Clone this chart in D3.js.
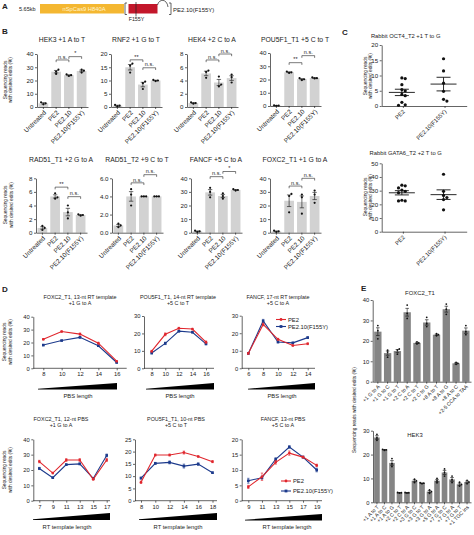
<!DOCTYPE html>
<html>
<head>
<meta charset="utf-8">
<script src="https://cdn.jsdelivr.net/npm/d3@7"></script>
<style>
  body { margin: 0; background: #fff; }
</style>
</head>
<body>
<script>
// ---------------- data ----------------

// panel B
var bGroups = ["Untreated", "PE2", "PE2.10", "PE2.10(F155Y)"];
var bTitles = ["HEK3 +1 A to T", "RNF2 +1 G to T", "HEK4 +2 C to A", "POU5F1_T1 +5 C to T",
               "RAD51_T1 +2 G to A", "RAD51_T2 +9 C to T", "FANCF +5 C to A", "FOXC2_T1 +1 G to A"];
var bMax  = [40, 20, 8, 40, 8, 6, 40, 40];
var bStep = [10, 5, 2, 10, 2, 2, 10, 10];
var bReps = [
  [[2.0, 2.8, 3.6], [25.0, 26.8, 28.2], [23.4, 24.0, 24.6], [26.0, 27.4, 28.2]],
  [[0.2, 0.5, 0.8], [13.0, 15.6, 16.4], [6.8, 9.0, 9.6], [9.8, 10.0, 10.2]],
  [[0.5, 0.6, 0.7], [4.4, 5.3, 5.5], [3.1, 3.4, 4.6], [3.7, 4.5, 4.9]],
  [[0.1, 0.3, 0.5], [25.0, 25.4, 26.0], [19.6, 20.2, 21.0], [20.8, 21.0, 21.6]],
  [[0.4, 0.7, 1.0], [5.0, 5.2, 5.8], [2.1, 3.0, 4.0], [2.5, 2.6, 2.7]],
  [[0.6, 0.8, 1.0], [3.0, 4.2, 4.8], [4.0, 4.0, 4.0], [4.0, 4.0, 4.0]],
  [[0.5, 1.0, 1.5], [26.0, 30.0, 33.0], [25.0, 27.0, 29.0], [31.0, 31.4, 32.0]],
  [[0.5, 1.0, 1.5], [15.0, 27.0, 28.5], [14.0, 26.0, 28.0], [22.0, 28.0, 31.0]]
];
// brackets: [from, to, label, level in data units]
var bSig = [
  [[1, 2, "n.s.", 35.5], [2, 3, "*", 38]],
  [[1, 2, "**", 17.8], [2, 3, "n.s.", 14.8]],
  [[1, 2, "n.s.", 7.1], [2, 3, "n.s.", 8.0]],
  [[1, 2, "**", 32.7], [2, 3, "n.s.", 38]],
  [[1, 2, "**", 6.7], [2, 3, "n.s.", 5.3]],
  [[1, 2, "n.s.", 5.5], [2, 3, "n.s.", 6.4]],
  [[1, 2, "n.s.", 41.2], [2, 3, "*", 45]],
  [[1, 2, "n.s.", 34.3], [2, 3, "n.s.", 40]]
];

// panel C
var cGroups = ["PE2", "PE2.10(F155Y)"];
var oct4PE2   = [9.2, 9.0, 7.0, 5.4, 5.0, 3.8, 3.4, 1.2, 0.4, 0.2];
var oct4F155Y = [15.5, 11.5, 7.5, 4.8, 2.2, 1.6];
var gata6PE2   = [34, 33.5, 32, 30.5, 29.5, 28.5, 23, 22.5, 22.5];
var gata6F155Y = [42, 29.5, 26.5, 25, 23.5, 16];

// panel D
var dTitles = [
  ["FOXC2_T1, 13-nt RT template", "+1 G to A"], ["POU5F1_T1, 14-nt RT template", "+5 C to T"], ["FANCF, 17-nt RT template", "+5 C to A"],
  ["FOXC2_T1, 12-nt PBS", "+1 G to A"], ["POU5F1_T1, 10-nt PBS", "+5 C to T"], ["FANCF, 13-nt PBS", "+5 C to A"]
];
var dX = [[8, 10, 12, 14, 16], [8, 10, 12, 14, 16], [6, 8, 10, 12, 14],
          [7, 9, 11, 13, 15, 17], [8, 10, 12, 14, 16, 18], [9, 11, 13, 15, 17, 19]];
var dPE2 = [[22.5, 28.5, 26.5, 19.5, 5.5], [9.8, 19.5, 23, 22.5, 15], [8.5, 25, 16.5, 13, 14],
            [25.5, 18, 26.5, 26.5, 14, 26.5], [7.5, 18.6, 18.6, 19.6, 18, 15.9], [4.5, 7.8, 12.5, 15.5, 14.2, 11.5]];
var dPE2err = [[0.6, 0.5, 0.8, 0.6, 0.4], [0.5, 0.8, 0.5, 0.4, 0.6], [0.4, 0.8, 0.6, 0.4, 0.5],
               [0.8, 0.5, 0.9, 0.9, 0.6, 1.0], [0.5, 0.4, 0.4, 0.6, 0.3, 0.4], [0.5, 1.2, 0.6, 0.7, 0.3, 0.4]];
var dF155Y = [[18, 21.5, 24, 17.5, 4.5], [8.8, 14.3, 21.3, 20.7, 14], [8.5, 27, 15, 14.5, 17.5],
              [21, 15, 23.5, 24, 14.5, 29.5], [9.2, 15.2, 15.6, 14.1, 14.9, 11.4], [6.5, 7.5, 13.5, 17.5, 14.2, 10]];
var dF155Yerr = [[0.5, 0.4, 0.6, 0.5, 0.4], [0.6, 0.7, 0.5, 0.4, 0.5], [0.4, 0.9, 0.5, 0.4, 0.5],
                 [0.7, 0.4, 0.5, 0.6, 0.5, 0.9], [0.4, 0.4, 0.6, 0.8, 0.5, 0.3], [0.8, 0.5, 0.5, 0.4, 0.3, 0.6]];
var dMax  = [40, 30, 30, 40, 25, 20];
var dStep = [10, 10, 10, 10, 5, 5];
var dXlabels = ["PBS length", "RT template length"];
var seriesNames = ["PE2", "PE2.10(F155Y)"];

// panel E
var eFoxLabels = ["+1 G to A", "+1 G to C", "+1 G to T", "+2 C to A", "+2 C to T", "+2 C to G",
                  "+8 A to T", "+8 A to G", "+8 A to C", "+2-5 CCA to TAA"];
var eFoxReps = [[21, 25, 27.5], [12, 14.5, 15.5], [13.5, 15.5, 16], [31, 33.5, 37.5], [18.5, 19, 19.5],
                [27, 28.5, 31.5], [22.5, 23, 23.5], [33, 35.5, 38], [8.5, 9, 9.5], [23, 24.5, 27.5]];
var eHekLabels = ["+1 A to T", "+1 A to C", "+1 A to G", "+2 C to T", "+2 C to A", "+3 G to C", "+3 G to T",
                  "+3 G to A", "+5 G to A", "+7 G to C", "+7 G to A", "+7 G to T", "+1 TGC ins"];
var eHekReps = [[26, 27, 28.5], [21.8, 22, 22.2], [15, 16.2, 18.3], [3.9, 4, 4.1], [3.9, 4, 4.1],
                [8.3, 9, 9.7], [7.8, 8, 8.2], [3.8, 4.5, 5.2], [8.2, 9, 10], [11, 12.5, 14],
                [8.3, 9.5, 11], [6.8, 7.5, 8.4], [7.8, 8.5, 9.2]];

// ---------------- drawing ----------------
var FONT = "'Liberation Sans', Arial, Helvetica, sans-serif";
var INK = "#222";
var RED = "#e0262d", BLUE = "#1c3a8c";

var svg = d3.select("body").append("svg")
  .attr("width", 474).attr("height", 535)
  .style("font-family", FONT);

function label(x, y, s, size, anchor, bold, fill) {
  return svg.append("text").attr("x", x).attr("y", y).text(s)
    .attr("font-size", size).attr("text-anchor", anchor || "start")
    .attr("font-weight", bold ? "bold" : null)
    .attr("fill", fill || INK);
}

function yTitle(x, yc, lines, size) {
  lines.forEach(function(s, k) {
    svg.append("text")
      .attr("transform", "translate(" + (x + k * (size + 0.9)) + "," + yc + ") rotate(-90)")
      .attr("text-anchor", "middle").attr("font-size", size).attr("fill", INK).text(s);
  });
}

function styleAxis(g, size) {
  g.attr("font-family", FONT).attr("font-size", size);
  g.select(".domain").attr("stroke", INK).attr("stroke-width", 0.7);
  g.selectAll(".tick line").attr("stroke", INK).attr("stroke-width", 0.7);
  g.selectAll(".tick text").attr("fill", INK);
}

// simple beeswarm: horizontal offsets so dots do not overlap
function swarm(vals, y, r) {
  var placed = [];
  return vals.map(function(v) {
    var py = y(v), off = 0;
    for (var k = 0; k < 40; k++) {
      off = (k % 2 ? 1 : -1) * Math.ceil(k / 2) * r * 2.1;
      var ok = placed.every(function(p) { return Math.hypot(p[0] - off, p[1] - py) >= r * 2.1; });
      if (ok) break;
    }
    placed.push([off, py]);
    return off;
  });
}

function stats(r) {
  return { m: d3.mean(r), se: d3.deviation(r) / Math.sqrt(r.length), r: r };
}

function errPath(X, a, b, cap) {
  return "M" + (X - cap) + "," + a + "H" + (X + cap) + "M" + X + "," + a + "V" + b + "M" + (X - cap) + "," + b + "H" + (X + cap);
}

// ---------- A: construct schematic ----------
label(2, 9, "A", 8, "start", true);
label(19, 11, "5.65kb", 5.5);
svg.append("rect").attr("x", 40).attr("y", 4).attr("width", 84).attr("height", 9.5).attr("fill", "#f4b731");
label(84, 10.7, "nSpCas9 H840A", 5.8, "middle", false, "#fff4cf");
svg.append("path").attr("d", "M127,3H125V14.5H127").attr("fill", "none").attr("stroke", INK).attr("stroke-width", 0.7);
svg.append("rect").attr("x", 128.5).attr("y", 4).attr("width", 29).attr("height", 9.5).attr("fill", "#c3172b");
svg.append("line").attr("x1", 136).attr("x2", 136).attr("y1", 2).attr("y2", 16.5).attr("stroke", INK).attr("stroke-width", 0.7);
label(136.5, 21, "F155Y", 5.3, "middle");
svg.append("path").attr("d", "M157.5,5C159,-1.5 167,-1.5 168,7").attr("fill", "none").attr("stroke", INK).attr("stroke-width", 0.7);
svg.append("path").attr("d", "M169,3H171V14.5H169").attr("fill", "none").attr("stroke", INK).attr("stroke-width", 0.7);
label(173, 11.5, "PE2.10(F155Y)", 6);

// ---------- B: bar charts ----------
label(2, 34, "B", 8, "start", true);
var bLayout = [
  { ax: 37, top: 54, bottom: 107, ty: 42.3 },
  { ax: 111, top: 54, bottom: 107, ty: 42.3 },
  { ax: 187, top: 54, bottom: 107, ty: 42.3 },
  { ax: 270, top: 53, bottom: 106, ty: 42.3 },
  { ax: 36, top: 178.3, bottom: 232.7, ty: 162.3 },
  { ax: 112, top: 178.3, bottom: 232.7, ty: 162.3 },
  { ax: 191, top: 178.3, bottom: 232.7, ty: 162.3 },
  { ax: 270, top: 178.3, bottom: 232.7, ty: 162.3 }
];

function barChart(i) {
  var L = bLayout[i];
  var y = d3.scaleLinear().domain([0, bMax[i]]).range([L.bottom, L.top]);
  var x = d3.scaleBand().domain(bGroups).range([L.ax, L.ax + 51]).paddingInner(0.24).paddingOuter(0.12);
  var cx = function(k) { return x(bGroups[k]) + x.bandwidth() / 2; };
  var st = bReps[i].map(stats);
  var g = svg.append("g");

  g.selectAll(".bar").data(st).join("rect")
    .attr("x", function(d, k) { return x(bGroups[k]); })
    .attr("width", x.bandwidth())
    .attr("y", function(d) { return y(d.m); })
    .attr("height", function(d) { return L.bottom - y(d.m); })
    .attr("fill", "#d2d2d2");

  g.selectAll(".err").data(st).join("path")
    .attr("d", function(d, k) { return errPath(cx(k), y(d.m + d.se), y(d.m - d.se), 2.2); })
    .attr("stroke", "#111").attr("stroke-width", 0.6).attr("fill", "none");

  st.forEach(function(d, k) {
    var off = swarm(d.r, y, 1.1);
    g.selectAll(null).data(d.r).join("circle")
      .attr("cx", function(v, j) { return cx(k) + off[j]; })
      .attr("cy", function(v) { return y(v); })
      .attr("r", 1.1).attr("fill", "#111");
  });

  var ya = g.append("g").attr("transform", "translate(" + L.ax + ",0)")
    .call(d3.axisLeft(y).tickValues(d3.range(0, bMax[i] + 1e-9, bStep[i])).tickSize(2).tickSizeOuter(0).tickPadding(1.5));
  styleAxis(ya, 6.2);

  var xa = g.append("g").attr("transform", "translate(0," + L.bottom + ")")
    .call(d3.axisBottom(x).tickSize(2).tickSizeOuter(0).tickPadding(1));
  styleAxis(xa, 6.4);
  xa.selectAll(".tick text").attr("y", 0).attr("dy", "0.35em")
    .attr("transform", "translate(1.5,4.5) rotate(-45)").attr("text-anchor", "end");

  bSig[i].forEach(function(s) {
    var x1 = cx(s[0]), x2 = cx(s[1]), yy = y(s[3]);
    g.append("path").attr("d", "M" + x1 + "," + (yy + 2.2) + "V" + yy + "H" + x2 + "V" + (yy + 2.2))
      .attr("fill", "none").attr("stroke", INK).attr("stroke-width", 0.6);
    g.append("text").attr("x", (x1 + x2) / 2).attr("y", yy - 1.3).attr("text-anchor", "middle")
      .attr("font-size", 5.5).attr("fill", INK).text(s[2]);
  });

  label(L.ax + 25, L.ty, bTitles[i], 6.8, "middle");
}
for (var i = 0; i < 8; i++) barChart(i);
yTitle(6.6, 80, ["Sequencing reads", "with desired edits (%)"], 4.8);
yTitle(7.2, 205, ["Sequencing reads", "with desired edits (%)"], 4.8);

// ---------- C: rabbit dot plots ----------
label(342, 35, "C", 8, "start", true);

function dotChart(sets, maxV, step, ax, top, bottom, title, ty) {
  var y = d3.scaleLinear().domain([0, maxV]).range([bottom, top]);
  var x = d3.scaleBand().domain(cGroups).range([ax, ax + 85]).paddingInner(0).paddingOuter(0.02);
  var g = svg.append("g");
  sets.forEach(function(vals, k) {
    var c = x(cGroups[k]) + x.bandwidth() / 2 - 1.5;
    var s = stats(vals);
    var off = swarm(vals, y, 1.6);
    g.selectAll(null).data(vals).join("circle")
      .attr("cx", function(v, j) { return c + off[j]; })
      .attr("cy", function(v) { return y(v); })
      .attr("r", 1.6).attr("fill", "#111");
    g.append("line").attr("x1", c - 13).attr("x2", c + 13).attr("y1", y(s.m)).attr("y2", y(s.m))
      .attr("stroke", "#111").attr("stroke-width", 0.9);
    g.append("path").attr("d", errPath(c, y(s.m + s.se), y(s.m - s.se), 7))
      .attr("stroke", "#111").attr("stroke-width", 0.9).attr("fill", "none");
  });
  var ya = g.append("g").attr("transform", "translate(" + ax + ",0)")
    .call(d3.axisLeft(y).tickValues(d3.range(0, maxV + 1e-9, step)).tickSize(2).tickSizeOuter(0).tickPadding(1.5));
  styleAxis(ya, 6.2);
  var xa = g.append("g").attr("transform", "translate(0," + bottom + ")")
    .call(d3.axisBottom(x).tickSize(2).tickSizeOuter(0).tickPadding(1));
  styleAxis(xa, 5.8);
  xa.selectAll(".tick text").attr("y", 0).attr("dy", "0.35em")
    .attr("transform", "translate(0.5,4.5) rotate(-45)").attr("text-anchor", "end");
  label(ax + 24, ty, title, 5.8, "middle");
}
dotChart([oct4PE2, oct4F155Y], 20, 5, 381.7, 45, 106, "Rabbit OCT4_T2 +1 T to G", 38);
dotChart([gata6PE2, gata6F155Y], 50, 10, 381.7, 163.3, 231.7, "Rabbit GATA6_T2 +2 T to G", 155);
yTitle(366.5, 76, ["Sequencing reads", "with desired edits (%)"], 4.8);
yTitle(366.5, 197, ["Sequencing reads", "with desired edits (%)"], 4.8);

// ---------- D: PBS / RT template length ----------
label(2, 292, "D", 8, "start", true);
var dLayout = [
  { ax: 33.3, x0: 43.3, x1: 116.7, xEnd: 126.7, top: 316.7, bottom: 368.3, tx: 80, ty: 298.5, wx0: 38, wx1: 117, wy: 383, wb: 389.5, lx: 78, ly: 397.5 },
  { ax: 144, x0: 151.7, x1: 206, xEnd: 214, top: 316, bottom: 368.3, tx: 178, ty: 298.5, wx0: 146, wx1: 214, wy: 383, wb: 389.5, lx: 180, ly: 397.5 },
  { ax: 241.7, x0: 248.3, x1: 307.7, xEnd: 315, top: 315.7, bottom: 368.3, tx: 278, ty: 298.5, wx0: 248, wx1: 315, wy: 383, wb: 389.5, lx: 282, ly: 397.5 },
  { ax: 33.3, x0: 39.3, x1: 106.7, xEnd: 110, top: 439.3, bottom: 500.7, tx: 61, ty: 420.8, wx0: 33, wx1: 110, wy: 513, wb: 520, lx: 67, ly: 529 },
  { ax: 135, x0: 141, x1: 212.5, xEnd: 217, top: 439.3, bottom: 500.7, tx: 176, ty: 420.8, wx0: 139, wx1: 217, wy: 513, wb: 520, lx: 178, ly: 529 },
  { ax: 241.7, x0: 248.3, x1: 316.7, xEnd: 322, top: 439.3, bottom: 500.7, tx: 283, ty: 420.8, wx0: 245, wx1: 322, wy: 514, wb: 520.5, lx: 287, ly: 529 }
];

function lineChart(i) {
  var L = dLayout[i];
  var y = d3.scaleLinear().domain([0, dMax[i]]).range([L.bottom, L.top]);
  var xs = dX[i];
  var x = d3.scaleLinear().domain([xs[0], xs[xs.length - 1]]).range([L.x0, L.x1]);
  var g = svg.append("g");

  var ya = g.append("g").attr("transform", "translate(" + L.ax + ",0)")
    .call(d3.axisLeft(y).tickValues(d3.range(0, dMax[i] + 1e-9, dStep[i])).tickSize(2).tickSizeOuter(0).tickPadding(1.5));
  styleAxis(ya, 5.8);
  var xa = g.append("g").attr("transform", "translate(0," + L.bottom + ")")
    .call(d3.axisBottom(x).tickValues(xs).tickFormat(d3.format("d")).tickSize(2).tickSizeOuter(0).tickPadding(2));
  styleAxis(xa, 5.8);
  xa.select(".domain").remove();
  g.append("line").attr("x1", L.ax).attr("x2", L.xEnd).attr("y1", L.bottom).attr("y2", L.bottom)
    .attr("stroke", INK).attr("stroke-width", 0.7);

  var series = [[dF155Y[i], dF155Yerr[i], BLUE], [dPE2[i], dPE2err[i], RED]];
  series.forEach(function(s) {
    var pts = s[0].map(function(v, k) { return { x: xs[k], v: v, e: s[1][k] }; });
    g.append("path").datum(pts)
      .attr("d", d3.line().x(function(d) { return x(d.x); }).y(function(d) { return y(d.v); }))
      .attr("fill", "none").attr("stroke", s[2]).attr("stroke-width", 1.1);
    g.selectAll(null).data(pts).join("path")
      .attr("d", function(d) { return errPath(x(d.x), y(d.v + d.e), y(d.v - d.e), 1.2); })
      .attr("stroke", s[2]).attr("stroke-width", 0.6).attr("fill", "none");
    if (s[2] === RED) {
      g.selectAll(null).data(pts).join("circle")
        .attr("cx", function(d) { return x(d.x); }).attr("cy", function(d) { return y(d.v); })
        .attr("r", 1.3).attr("fill", s[2]);
    } else {
      g.selectAll(null).data(pts).join("rect")
        .attr("x", function(d) { return x(d.x) - 1.3; }).attr("y", function(d) { return y(d.v) - 1.3; })
        .attr("width", 2.6).attr("height", 2.6).attr("fill", s[2]);
    }
  });

  label(L.tx, L.ty, dTitles[i][0], 5.4, "middle");
  label(L.tx, L.ty + 6.6, dTitles[i][1], 5.4, "middle");

  g.append("path")
    .attr("d", "M" + L.wx0 + "," + (L.wb - 0.8) + "L" + L.wx1 + "," + L.wy + "L" + L.wx1 + "," + L.wb + "L" + L.wx0 + "," + L.wb + "Z")
    .attr("fill", "#000");
  label(L.lx, L.ly, dXlabels[i < 3 ? 0 : 1], 5.8, "middle");
}
for (var j = 0; j < 6; j++) lineChart(j);
yTitle(5.8, 342, ["Sequencing reads", "with desired edits (%)"], 4.8);
yTitle(5.8, 470, ["Sequencing reads", "with desired edits (%)"], 4.8);

function legend(x, y1, y2) {
  [[y1, RED, seriesNames[0]], [y2, BLUE, seriesNames[1]]].forEach(function(r) {
    svg.append("line").attr("x1", x).attr("x2", x + 10).attr("y1", r[0]).attr("y2", r[0])
      .attr("stroke", r[1]).attr("stroke-width", 1.1);
    if (r[1] === RED) svg.append("circle").attr("cx", x + 5).attr("cy", r[0]).attr("r", 1.4).attr("fill", r[1]);
    else svg.append("rect").attr("x", x + 3.6).attr("y", r[0] - 1.4).attr("width", 2.8).attr("height", 2.8).attr("fill", r[1]);
    label(x + 12, r[0] + 2, r[2], 5.8, "start");
  });
}
legend(276, 319.5, 326.5);
legend(281, 481, 491);

// ---------- E: all edit types ----------
label(361, 291, "E", 8, "start", true);

function editBars(labels, reps, maxV, step, ax, top, bottom, xEnd, title, tx, ty) {
  var y = d3.scaleLinear().domain([0, maxV]).range([bottom, top]);
  var x = d3.scaleBand().domain(labels).range([ax, xEnd]).paddingInner(0.25).paddingOuter(0.15);
  var st = reps.map(stats);
  var g = svg.append("g");
  g.selectAll(null).data(st).join("rect")
    .attr("x", function(d, k) { return x(labels[k]); }).attr("width", x.bandwidth())
    .attr("y", function(d) { return y(d.m); }).attr("height", function(d) { return bottom - y(d.m); })
    .attr("fill", "#858585");
  g.selectAll(null).data(st).join("path")
    .attr("d", function(d, k) { var c = x(labels[k]) + x.bandwidth() / 2; return errPath(c, y(d.m + d.se), y(d.m - d.se), 1.8); })
    .attr("stroke", "#111").attr("stroke-width", 0.6).attr("fill", "none");
  st.forEach(function(d, k) {
    var c = x(labels[k]) + x.bandwidth() / 2;
    var off = swarm(d.r, y, 0.9);
    g.selectAll(null).data(d.r).join("circle")
      .attr("cx", function(v, j) { return c + off[j]; }).attr("cy", function(v) { return y(v); })
      .attr("r", 0.9).attr("fill", "#111");
  });
  var ya = g.append("g").attr("transform", "translate(" + ax + ",0)")
    .call(d3.axisLeft(y).tickValues(d3.range(0, maxV + 1e-9, step)).tickSize(2).tickSizeOuter(0).tickPadding(1.5));
  styleAxis(ya, 5.8);
  var xa = g.append("g").attr("transform", "translate(0," + bottom + ")")
    .call(d3.axisBottom(x).tickSize(2).tickSizeOuter(0).tickPadding(1));
  styleAxis(xa, 5.2);
  xa.selectAll(".tick text").attr("y", 0).attr("dy", "0.35em")
    .attr("transform", "translate(1,4) rotate(-45)").attr("text-anchor", "end");
  label(tx, ty, title, 5.9, "middle");
}
editBars(eFoxLabels, eFoxReps, 40, 10, 372.7, 300, 381.7, 471, "FOXC2_T1", 420, 295);
editBars(eHekLabels, eHekReps, 30, 10, 373, 430.7, 502.3, 471, "HEK3", 415, 437);
yTitle(356, 410, ["Sequencing reads with desired edits (%)"], 4.8);
</script>
</body>
</html>
